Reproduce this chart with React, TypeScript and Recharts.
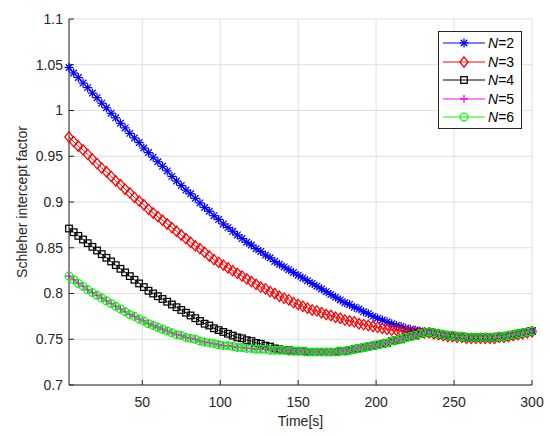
import React from 'react';
import { LineChart, Line, XAxis, YAxis, CartesianGrid, Legend } from 'recharts';

const TIME = [
  3, 6, 9, 12, 15, 18, 21, 24, 27, 30,
  33, 36, 39, 42, 45, 48, 51, 54, 57, 60,
  63, 66, 69, 72, 75, 78, 81, 84, 87, 90,
  93, 96, 99, 102, 105, 108, 111, 114, 117, 120,
  123, 126, 129, 132, 135, 138, 141, 144, 147, 150,
  153, 156, 159, 162, 165, 168, 171, 174, 177, 180,
  183, 186, 189, 192, 195, 198, 201, 204, 207, 210,
  213, 216, 219, 222, 225, 228, 231, 234, 237, 240,
  243, 246, 249, 252, 255, 258, 261, 264, 267, 270,
  273, 276, 279, 282, 285, 288, 291, 294, 297, 300,
];

const N2 = [
  1.047, 1.041, 1.036, 1.030, 1.025, 1.019, 1.014, 1.008, 1.003, 0.997,
  0.992, 0.986, 0.981, 0.975, 0.970, 0.965, 0.959, 0.954, 0.949, 0.944,
  0.939, 0.934, 0.928, 0.923, 0.918, 0.913, 0.909, 0.904, 0.899, 0.894,
  0.890, 0.885, 0.881, 0.876, 0.872, 0.868, 0.864, 0.860, 0.856, 0.853,
  0.849, 0.846, 0.842, 0.839, 0.835, 0.832, 0.829, 0.826, 0.823, 0.820,
  0.817, 0.814, 0.811, 0.808, 0.805, 0.802, 0.799, 0.796, 0.793, 0.790,
  0.788, 0.785, 0.783, 0.780, 0.778, 0.775, 0.773, 0.771, 0.769, 0.767,
  0.765, 0.764, 0.762, 0.761, 0.760, 0.759, 0.758, 0.758, 0.757, 0.756,
  0.755, 0.754, 0.754, 0.753, 0.753, 0.752, 0.752, 0.752, 0.752, 0.752,
  0.752, 0.752, 0.753, 0.753, 0.754, 0.755, 0.756, 0.757, 0.758, 0.759,
];

const N3 = [
  0.971, 0.966, 0.961, 0.957, 0.952, 0.947, 0.942, 0.937, 0.933, 0.928,
  0.923, 0.919, 0.914, 0.910, 0.905, 0.901, 0.897, 0.892, 0.888, 0.884,
  0.880, 0.876, 0.872, 0.868, 0.864, 0.860, 0.856, 0.852, 0.849, 0.845,
  0.841, 0.837, 0.834, 0.831, 0.828, 0.825, 0.822, 0.819, 0.816, 0.813,
  0.810, 0.807, 0.805, 0.802, 0.800, 0.797, 0.795, 0.793, 0.790, 0.788,
  0.786, 0.784, 0.782, 0.781, 0.779, 0.777, 0.776, 0.774, 0.773, 0.771,
  0.770, 0.769, 0.767, 0.766, 0.765, 0.764, 0.763, 0.762, 0.761, 0.760,
  0.760, 0.759, 0.758, 0.758, 0.757, 0.757, 0.757, 0.757, 0.756, 0.755,
  0.754, 0.753, 0.753, 0.752, 0.752, 0.751, 0.751, 0.751, 0.751, 0.751,
  0.751, 0.751, 0.752, 0.752, 0.753, 0.754, 0.755, 0.756, 0.757, 0.758,
];

const N4 = [
  0.871, 0.867, 0.863, 0.859, 0.855, 0.851, 0.847, 0.843, 0.839, 0.835,
  0.831, 0.827, 0.823, 0.819, 0.815, 0.811, 0.807, 0.803, 0.800, 0.797,
  0.794, 0.791, 0.788, 0.785, 0.782, 0.779, 0.776, 0.773, 0.770, 0.767,
  0.765, 0.762, 0.760, 0.758, 0.756, 0.754, 0.752, 0.751, 0.749, 0.748,
  0.746, 0.745, 0.743, 0.742, 0.740, 0.739, 0.738, 0.738, 0.737, 0.737,
  0.737, 0.736, 0.736, 0.736, 0.736, 0.736, 0.736, 0.736, 0.737, 0.737,
  0.738, 0.739, 0.740, 0.741, 0.742, 0.743, 0.744, 0.745, 0.746, 0.748,
  0.749, 0.750, 0.752, 0.753, 0.754, 0.756, 0.757, 0.758, 0.757, 0.756,
  0.755, 0.754, 0.754, 0.753, 0.753, 0.752, 0.752, 0.752, 0.752, 0.752,
  0.752, 0.752, 0.753, 0.753, 0.754, 0.755, 0.756, 0.757, 0.758, 0.759,
];

const N5 = [
  0.819, 0.815, 0.811, 0.808, 0.804, 0.801, 0.798, 0.795, 0.792, 0.789,
  0.786, 0.783, 0.780, 0.777, 0.775, 0.772, 0.770, 0.767, 0.765, 0.763,
  0.761, 0.759, 0.757, 0.755, 0.754, 0.752, 0.751, 0.750, 0.748, 0.747,
  0.746, 0.745, 0.744, 0.743, 0.743, 0.742, 0.741, 0.741, 0.740, 0.740,
  0.739, 0.739, 0.739, 0.738, 0.738, 0.738, 0.738, 0.737, 0.737, 0.737,
  0.737, 0.736, 0.736, 0.736, 0.736, 0.736, 0.736, 0.736, 0.737, 0.737,
  0.738, 0.739, 0.740, 0.741, 0.742, 0.743, 0.744, 0.745, 0.746, 0.748,
  0.749, 0.750, 0.752, 0.753, 0.754, 0.756, 0.757, 0.758, 0.757, 0.756,
  0.755, 0.754, 0.754, 0.753, 0.753, 0.752, 0.752, 0.752, 0.752, 0.752,
  0.752, 0.752, 0.753, 0.753, 0.754, 0.755, 0.756, 0.757, 0.758, 0.759,
];

const N6 = [
  0.819, 0.815, 0.811, 0.808, 0.804, 0.801, 0.798, 0.795, 0.792, 0.789,
  0.786, 0.783, 0.780, 0.777, 0.775, 0.772, 0.770, 0.767, 0.765, 0.763,
  0.761, 0.759, 0.757, 0.755, 0.754, 0.752, 0.751, 0.750, 0.748, 0.747,
  0.746, 0.745, 0.744, 0.743, 0.743, 0.742, 0.741, 0.741, 0.740, 0.740,
  0.739, 0.739, 0.739, 0.738, 0.738, 0.738, 0.738, 0.737, 0.737, 0.737,
  0.737, 0.736, 0.736, 0.736, 0.736, 0.736, 0.736, 0.736, 0.737, 0.737,
  0.738, 0.739, 0.740, 0.741, 0.742, 0.743, 0.744, 0.745, 0.746, 0.748,
  0.749, 0.750, 0.752, 0.753, 0.754, 0.756, 0.757, 0.758, 0.757, 0.756,
  0.755, 0.754, 0.754, 0.753, 0.753, 0.752, 0.752, 0.752, 0.752, 0.752,
  0.752, 0.752, 0.753, 0.753, 0.754, 0.755, 0.756, 0.757, 0.758, 0.759,
];

const X_TICKS = [50, 100, 150, 200, 250, 300];
const Y_TICKS = [0.7, 0.75, 0.8, 0.85, 0.9, 0.95, 1, 1.05, 1.1];

const SERIES = [
  { key: 'n2', label: '2', color: '#0000ff', shape: 'star' },
  { key: 'n3', label: '3', color: '#ff0000', shape: 'diamond' },
  { key: 'n4', label: '4', color: '#000000', shape: 'square' },
  { key: 'n5', label: '5', color: '#ff00ff', shape: 'plus' },
  { key: 'n6', label: '6', color: '#00ff00', shape: 'circle' },
];

const data = TIME.map((t, i) => ({
  t,
  n2: N2[i],
  n3: N3[i],
  n4: N4[i],
  n5: N5[i],
  n6: N6[i],
}));

const FONT = '"Liberation Sans", Arial, Helvetica, sans-serif';
const AXIS = '#262626';
const GAP = 6; // tickSize + tickMargin used by the axes
const IN = 5; // inward tick length

function Marker({ shape, color, cx, cy }: any) {
  if (cx == null || cy == null) return null;
  const p = { stroke: color, strokeWidth: 1.25, fill: 'none' };
  switch (shape) {
    case 'star':
      return (
        <g {...p}>
          <line x1={cx - 4.5} y1={cy} x2={cx + 4.5} y2={cy} />
          <line x1={cx} y1={cy - 4.5} x2={cx} y2={cy + 4.5} />
          <line x1={cx - 3.3} y1={cy - 3.3} x2={cx + 3.3} y2={cy + 3.3} />
          <line x1={cx - 3.3} y1={cy + 3.3} x2={cx + 3.3} y2={cy - 3.3} />
        </g>
      );
    case 'diamond':
      return <polygon {...p} points={`${cx},${cy - 5.2} ${cx + 4.2},${cy} ${cx},${cy + 5.2} ${cx - 4.2},${cy}`} />;
    case 'square':
      return <rect {...p} x={cx - 3.3} y={cy - 3.3} width={6.6} height={6.6} />;
    case 'plus':
      return (
        <g {...p}>
          <line x1={cx - 4} y1={cy} x2={cx + 4} y2={cy} />
          <line x1={cx} y1={cy - 4} x2={cx} y2={cy + 4} />
        </g>
      );
    default:
      return <circle {...p} cx={cx} cy={cy} r={3.9} />;
  }
}

const LeftTick = ({ x, y, payload }: any) => (
  <g>
    <text x={x} y={y} dy="0.355em" textAnchor="end" fontSize={14} fill={AXIS} fontFamily={FONT}>
      {payload.value}
    </text>
    <line x1={x + GAP} x2={x + GAP + IN} y1={y} y2={y} stroke={AXIS} />
  </g>
);

const RightTick = ({ x, y }: any) => <line x1={x - GAP} x2={x - GAP - IN} y1={y} y2={y} stroke={AXIS} />;

const BottomTick = ({ x, y, payload }: any) => (
  <g>
    <text x={x} y={y} dy="0.71em" textAnchor="middle" fontSize={14} fill={AXIS} fontFamily={FONT}>
      {payload.value}
    </text>
    <line x1={x} x2={x} y1={y - 12} y2={y - 12 - IN} stroke={AXIS} />
  </g>
);

const TopTick = ({ x, y }: any) => <line x1={x} x2={x} y1={y + GAP} y2={y + GAP + IN} stroke={AXIS} />;

function LegendBox() {
  return (
    <div
      style={{
        position: 'relative',
        width: 84,
        height: 98,
        boxSizing: 'border-box',
        border: `1px solid ${AXIS}`,
        background: '#fff',
        fontFamily: FONT,
        fontSize: 14,
        color: '#000',
      }}
    >
      {SERIES.map((s, i) => (
        <div
          key={s.key}
          style={{ position: 'absolute', left: 4, top: 2 + i * 18.6, height: 18, display: 'flex', alignItems: 'center' }}
        >
          <svg width={42} height={18}>
            <line x1={0} x2={42} y1={9} y2={9} stroke={s.color} strokeWidth={1} />
            <Marker shape={s.shape} color={s.color} cx={21} cy={9} />
          </svg>
          <span style={{ marginLeft: 3, whiteSpace: 'nowrap' }}>
            <i>N</i>={s.label}
          </span>
        </div>
      ))}
    </div>
  );
}

export default function App() {
  return (
    <div style={{ position: 'absolute', left: 0, top: 0, width: 550, height: 436, background: '#fff' }}>
      <LineChart width={550} height={436} data={data} margin={{ top: 19, right: 18, bottom: 0, left: 0 }}>
        <CartesianGrid stroke="#dfdfdf" strokeWidth={1} />
        <XAxis
          dataKey="t"
          type="number"
          domain={[3, 300]}
          ticks={X_TICKS}
          height={51}
          tickSize={6}
          tickMargin={6}
          tickLine={false}
          axisLine={{ stroke: AXIS }}
          tick={<BottomTick />}
          label={(p: any) => {
            const vb = p.viewBox;
            return (
              <text x={vb.x + vb.width / 2} y={vb.y + 36} textAnchor="middle" dominantBaseline="central" fontSize={14} fill={AXIS} fontFamily={FONT}>
                Time[s]
              </text>
            );
          }}
        />
        <XAxis
          xAxisId="top"
          orientation="top"
          dataKey="t"
          type="number"
          domain={[3, 300]}
          ticks={X_TICKS}
          height={0}
          tickSize={6}
          tickMargin={0}
          tickLine={false}
          axisLine={{ stroke: AXIS }}
          tick={<TopTick />}
        />
        <YAxis
          type="number"
          domain={[0.7, 1.1]}
          ticks={Y_TICKS}
          width={69}
          tickSize={6}
          tickMargin={0}
          tickLine={false}
          axisLine={{ stroke: AXIS }}
          tick={<LeftTick />}
          label={(p: any) => {
            const vb = p.viewBox;
            const cx = vb.x + 22;
            const cy = vb.y + vb.height / 2;
            return (
              <text x={cx} y={cy} transform={`rotate(-90 ${cx} ${cy})`} textAnchor="middle" dominantBaseline="central" fontSize={14} fill={AXIS} fontFamily={FONT}>
                Schleher intercept factor
              </text>
            );
          }}
        />
        <YAxis
          yAxisId="right"
          orientation="right"
          type="number"
          domain={[0.7, 1.1]}
          ticks={Y_TICKS}
          width={0}
          tickSize={6}
          tickMargin={0}
          tickLine={false}
          axisLine={{ stroke: AXIS }}
          tick={<RightTick />}
        />
        {SERIES.map((s) => (
          <Line
            key={s.key}
            dataKey={s.key}
            type="linear"
            stroke={s.color}
            strokeWidth={1}
            dot={(p: any) => <Marker key={`${s.key}-${p.index}`} shape={s.shape} color={s.color} cx={p.cx} cy={p.cy} />}
            activeDot={false}
            isAnimationActive={false}
          />
        ))}
        <Legend
          layout="vertical"
          align="center"
          verticalAlign="middle"
          wrapperStyle={{ position: 'absolute', left: 438, top: 31, width: 84, height: 98 }}
          content={() => <LegendBox />}
        />
      </LineChart>
    </div>
  );
}
